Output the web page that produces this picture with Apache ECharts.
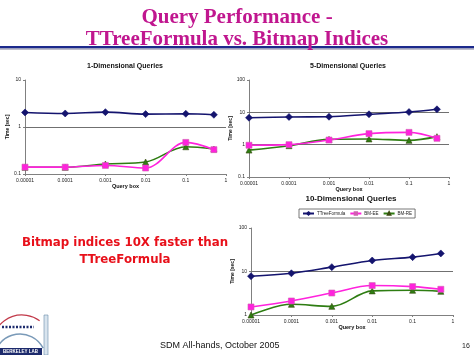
<!DOCTYPE html>
<html><head><meta charset="utf-8">
<script src="https://cdn.jsdelivr.net/npm/echarts@6/dist/echarts.min.js"></script>
<style>html,body{margin:0;padding:0;background:#fff}#c{width:474px;height:355px}</style>
</head><body><div id="c"></div>
<script>
const queryBox = [0.00001, 0.0001, 0.001, 0.01, 0.1, 0.5];
const xTickLabels = ['0.00001', '0.0001', '0.001', '0.01', '0.1', '1'];
const seriesNames = ['TTreeFormula', 'BM-EE', 'BM-RE'];
// 1-Dimensional
const d1_tree = [2.04, 1.94, 2.07, 1.88, 1.91, 1.82];
const d1_ee   = [0.14, 0.14, 0.152, 0.134, 0.47, 0.33];
const d1_re   = [0.139, 0.139, 0.163, 0.18, 0.38, 0.34];
// 5-Dimensional
const d5_tree = [6.8, 7.2, 7.3, 8.7, 10.2, 12.4];
const d5_ee   = [0.96, 1.0, 1.39, 2.19, 2.4, 1.57];
const d5_re   = [0.68, 0.93, 1.46, 1.5, 1.36, 1.77];
// 10-Dimensional
const d10_tree = [7.8, 9.1, 12.6, 17.9, 21.4, 26];
const d10_ee   = [1.53, 2.1, 3.2, 4.75, 4.5, 3.9];
const d10_re   = [1.0, 1.76, 1.58, 3.58, 3.7, 3.5];

const chart = echarts.init(document.getElementById('c'));
const pts = arr => queryBox.map((x, i) => [x, arr[i]]);
const fmtX = v => { const s = String(+(+v).toPrecision(2)); const i = xTickLabels.indexOf(s); return i >= 0 ? xTickLabels[i] : s; };
const fmtY = v => String(+(+v).toPrecision(2));
const grids = [
  {left: 25, right: 248, top: 80, bottom: 181},
  {left: 249, right: 25, top: 80, bottom: 178},
  {left: 251, right: 21, top: 228, bottom: 40}
];
const yRanges = [[0.1, 10], [0.1, 100], [1, 100]];
const gridLines = [[1], [1, 10], [10]];
const xAxes = grids.map((g, i) => ({
  type: 'log', logBase: 10, min: 0.00001, max: 1, gridIndex: i,
  name: 'Query box', nameLocation: 'middle', nameGap: 9,
  nameTextStyle: {fontSize: 5.5, fontWeight: 'bold', fontFamily: 'Liberation Sans', color: '#111'},
  axisLine: {lineStyle: {color: '#808080', width: 1}},
  axisTick: {length: 2, lineStyle: {color: '#808080'}},
  minorTick: {show: false}, splitLine: {show: false},
  axisLabel: {fontSize: 5, fontFamily: 'Liberation Sans', color: '#222', margin: 4, formatter: fmtX}
}));
const yAxes = grids.map((g, i) => ({
  type: 'log', logBase: 10, min: yRanges[i][0], max: yRanges[i][1], gridIndex: i,
  name: 'Time [sec]', nameLocation: 'middle', nameGap: 14, nameRotate: 90,
  nameTextStyle: {fontSize: 5, fontWeight: 'bold', fontFamily: 'Liberation Sans', color: '#111'},
  axisLine: {show: true, lineStyle: {color: '#808080', width: 1}},
  axisTick: {show: true, length: 2, lineStyle: {color: '#808080'}},
  minorTick: {show: false}, splitLine: {show: false},
  axisLabel: {fontSize: 5, fontFamily: 'Liberation Sans', color: '#222', margin: 4, formatter: fmtY}
}));
const datasets = [[d1_tree, d1_ee, d1_re], [d5_tree, d5_ee, d5_re], [d10_tree, d10_ee, d10_re]];
const styles = [
  {color: '#14146e', symbol: 'diamond', size: 7, border: '#14146e'},
  {color: '#ff22dd', symbol: 'rect', size: 6, border: '#d060b0'},
  {color: '#2e7d12', symbol: 'triangle', size: 6, border: '#3a4a10'}
];
const series = [];
datasets.forEach((set, gi) => {
  set.forEach((arr, si) => {
    const st = styles[si];
    const s = {
      name: seriesNames[si], type: 'line', xAxisIndex: gi, yAxisIndex: gi,
      data: pts(arr), smooth: 0.35, symbol: st.symbol, symbolSize: st.size,
      showAllSymbol: true,
      lineStyle: {color: st.color, width: 1.6},
      itemStyle: {color: st.color, borderColor: st.border, borderWidth: 0.6},
      z: 5 - si, animation: false
    };
    if (si === 0) {
      s.markLine = {silent: true, symbol: 'none', label: {show: false},
        lineStyle: {color: '#707070', type: 'solid', width: 1}, z: 1,
        data: gridLines[gi].map(v => ({yAxis: v}))};
    }
    series.push(s);
  });
});
chart.setOption({
  animation: false,
  grid: grids,
  xAxis: xAxes,
  yAxis: yAxes,
  legend: {
    show: true, left: 299, top: 209, data: seriesNames,
    itemWidth: 11, itemHeight: 3, itemGap: 4, padding: [2, 3],
    borderColor: '#555', borderWidth: 0.8,
    textStyle: {fontSize: 4.5, fontFamily: 'Liberation Sans', color: '#222', padding: [0, 0, 0, -2]}
  },
  series: series,
  title: [
    {text: 'Query Performance -', left: 'center', top: 2,
     textStyle: {fontFamily: 'Liberation Serif', fontWeight: 'bold', fontSize: 21, color: '#c0168f'}},
    {text: 'TTreeFormula vs. Bitmap Indices', left: 'center', top: 24,
     textStyle: {fontFamily: 'Liberation Serif', fontWeight: 'bold', fontSize: 21, color: '#c0168f'}},
    {text: '1-Dimensional Queries', left: 120, textAlign: 'center', top: 58,
     textStyle: {fontFamily: 'Liberation Sans', fontWeight: 'bold', fontSize: 7, color: '#111'}},
    {text: '5-Dimensional Queries', left: 343, textAlign: 'center', top: 58,
     textStyle: {fontFamily: 'Liberation Sans', fontWeight: 'bold', fontSize: 7, color: '#111'}},
    {text: '10-Dimensional Queries', left: 346, textAlign: 'center', top: 190,
     textStyle: {fontFamily: 'Liberation Sans', fontWeight: 'bold', fontSize: 8, color: '#111'}},
    {text: 'Bitmap indices 10X faster than', left: 120, textAlign: 'center', top: 232,
     textStyle: {fontFamily: 'DejaVu Sans', fontWeight: 'bold', fontSize: 11.8, color: '#e8101a'}},
    {text: 'TTreeFormula', left: 120, textAlign: 'center', top: 249,
     textStyle: {fontFamily: 'DejaVu Sans', fontWeight: 'bold', fontSize: 11.8, color: '#e8101a'}},
    {text: 'SDM All-hands, October 2005', left: 160, top: 341, padding: 0,
     textStyle: {fontFamily: 'Liberation Sans', fontWeight: 'normal', fontSize: 9, color: '#111'}},
    {text: '16', left: 462, top: 343, padding: 0,
     textStyle: {fontFamily: 'Liberation Sans', fontWeight: 'normal', fontSize: 7, color: '#222'}}
  ],
  graphic: [
    {type: 'rect', shape: {x: 0, y: 46, width: 474, height: 2.5}, style: {fill: '#1c2a8c'}},
    {type: 'rect', shape: {x: 0, y: 48.5, width: 474, height: 1.2}, style: {fill: '#a8a8b8'}},
    // simple logo approximation
    {type: 'arc', shape: {cx: 22, cy: 345, r: 30, startAngle: Math.PI * 1.05, endAngle: Math.PI * 1.7}, style: {stroke: '#c23a4a', lineWidth: 1.2, fill: null}},
    {type: 'line', shape: {x1: 2, y1: 327, x2: 34, y2: 327}, style: {stroke: '#1c2a6c', lineWidth: 2.5, lineDash: [2, 1.5]}},
    {type: 'arc', shape: {cx: 20, cy: 360, r: 26, startAngle: Math.PI * 1.15, endAngle: Math.PI * 1.85}, style: {stroke: '#7a9ab8', lineWidth: 1.5, fill: null}},
    {type: 'rect', shape: {x: 44, y: 315, width: 4, height: 40}, style: {fill: '#d8e4ee', stroke: '#6a8aa8', lineWidth: 0.6}},
    {type: 'rect', shape: {x: 0, y: 348, width: 42, height: 7}, style: {fill: '#1c2a6c'}},
    {type: 'text', left: 3, top: 349, style: {text: 'BERKELEY LAB', fontSize: 4.5, fontWeight: 'bold', fill: '#fff', fontFamily: 'Liberation Sans'}}
  ]
});
</script></body></html>
